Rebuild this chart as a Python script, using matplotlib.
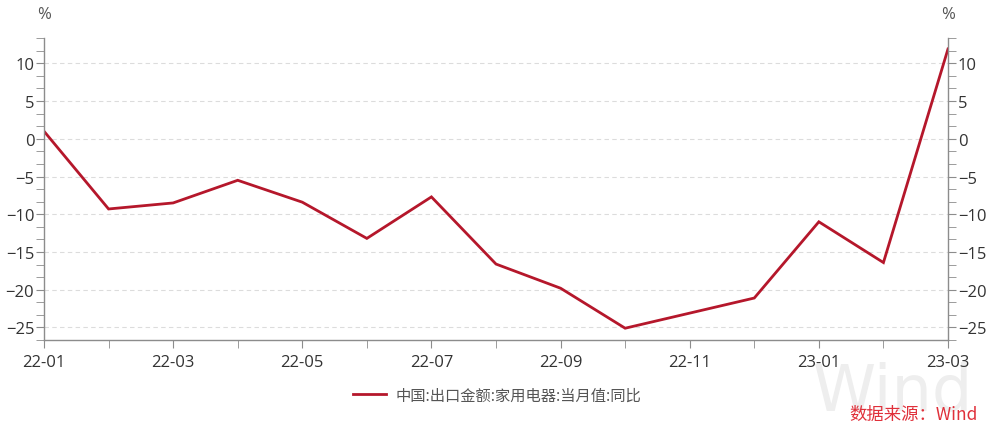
import matplotlib
matplotlib.use("Agg")
import matplotlib.pyplot as plt
from matplotlib.ticker import MultipleLocator, FixedLocator
import numpy as np

plt.rcParams['font.family'] = ['Open Sans', 'Noto Sans CJK SC', 'DejaVu Sans']

months = ["22-01", "22-02", "22-03", "22-04", "22-05", "22-06", "22-07", "22-08",
          "22-09", "22-10", "22-11", "22-12", "23-01", "23-02", "23-03"]
values = [1.0, -9.3, -8.5, -5.5, -8.4, -13.2, -7.7, -16.6, -19.8, -25.1, -23.1, -21.1,
          -11.0, -16.4, 11.9]
series_name = "中国:出口金额:家用电器:当月值:同比"

line_color = "#B5172B"
axis_gray = "#8c8c8c"
text_gray = "#333333"

fig = plt.figure(figsize=(10, 4.35), dpi=100)
ax = fig.add_axes([0.044, 0.216, 0.904, 0.694])
ax.set_facecolor('none')
x = np.arange(len(months))
ax.plot(x, values, color=line_color, lw=2.0, label=series_name, solid_joinstyle='miter')

ax.set_xlim(0, len(months) - 1)
ax.set_ylim(-80/3, 40/3)
ax.yaxis.set_major_locator(FixedLocator([-25, -20, -15, -10, -5, 0, 5, 10]))
ax.yaxis.set_minor_locator(MultipleLocator(5/3))
ax.xaxis.set_major_locator(FixedLocator(x[::2]))
ax.xaxis.set_minor_locator(FixedLocator(x))
ax.set_xticklabels(months[::2])

ax.grid(axis='y', which='major', color='#dcdcdc', ls=(0, (4, 3)), lw=0.8)
ax.spines['top'].set_visible(False)
for s in ['left', 'right', 'bottom']:
    ax.spines[s].set_color(axis_gray)
    ax.spines[s].set_linewidth(1.0)

ax.tick_params(axis='y', which='both', direction='out', length=6, color=axis_gray,
               labelsize=12, labelcolor=text_gray, left=True, right=True,
               labelleft=True, labelright=True, pad=1)
ax.tick_params(axis='x', which='both', direction='out', length=6, color=axis_gray,
               labelsize=12, labelcolor=text_gray, pad=4)

fig.text(0.044, 0.965, "%", ha='center', va='center', fontsize=12, color='#555555')
fig.text(0.948, 0.965, "%", ha='center', va='center', fontsize=12, color='#555555')

fig.text(0.893, 0.098, "Wind", ha='center', va='center', fontsize=46,
         color='#eeeeee', family='DejaVu Sans', zorder=-5)
fig.text(0.978, 0.045, "数据来源：Wind", ha='right', va='center', fontsize=12.5,
         color='#e0303a', family=['Noto Sans CJK SC', 'DejaVu Sans'])

leg = fig.legend(loc='center', bbox_to_anchor=(0.497, 0.09), frameon=False,
                 prop={'family': ['Noto Sans CJK SC', 'DejaVu Sans'], 'size': 11},
                 handlelength=2.2, handletextpad=0.6)
for t in leg.get_texts():
    t.set_color('#555555')

fig.savefig("out.png", dpi=100)
